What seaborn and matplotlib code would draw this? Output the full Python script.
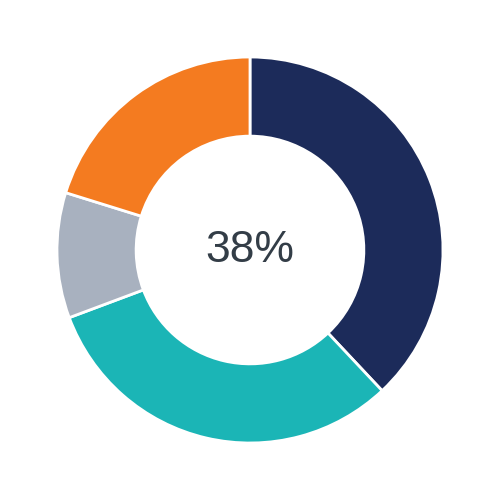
import matplotlib
matplotlib.use("Agg")
import matplotlib.pyplot as plt
import seaborn as sns

labels = ["Navy", "Teal", "Gray", "Orange"]
values = [38, 31.3, 10.5, 20.2]
colors = ["#1c2b5a", "#1bb5b6", "#a8b1bf", "#f47b20"]
center_text = "38%"

sns.set_theme(style="white")
plt.rcParams['font.family'] = ['Liberation Sans', 'DejaVu Sans']

fig = plt.figure(figsize=(5, 5), dpi=100)
ax = fig.add_axes([0, 0, 1, 1])
ax.pie(values, colors=colors, startangle=90, counterclock=False,
       wedgeprops=dict(width=0.41, edgecolor="white", linewidth=2))
ax.text(0, 0, center_text, ha="center", va="center", fontsize=32, color="#333d47")
lim = 250 / 193
ax.set_xlim(-lim, lim)
ax.set_ylim(-lim, lim)
ax.set_aspect("equal")
ax.axis("off")
fig.savefig("out.png", dpi=100, facecolor="white")
